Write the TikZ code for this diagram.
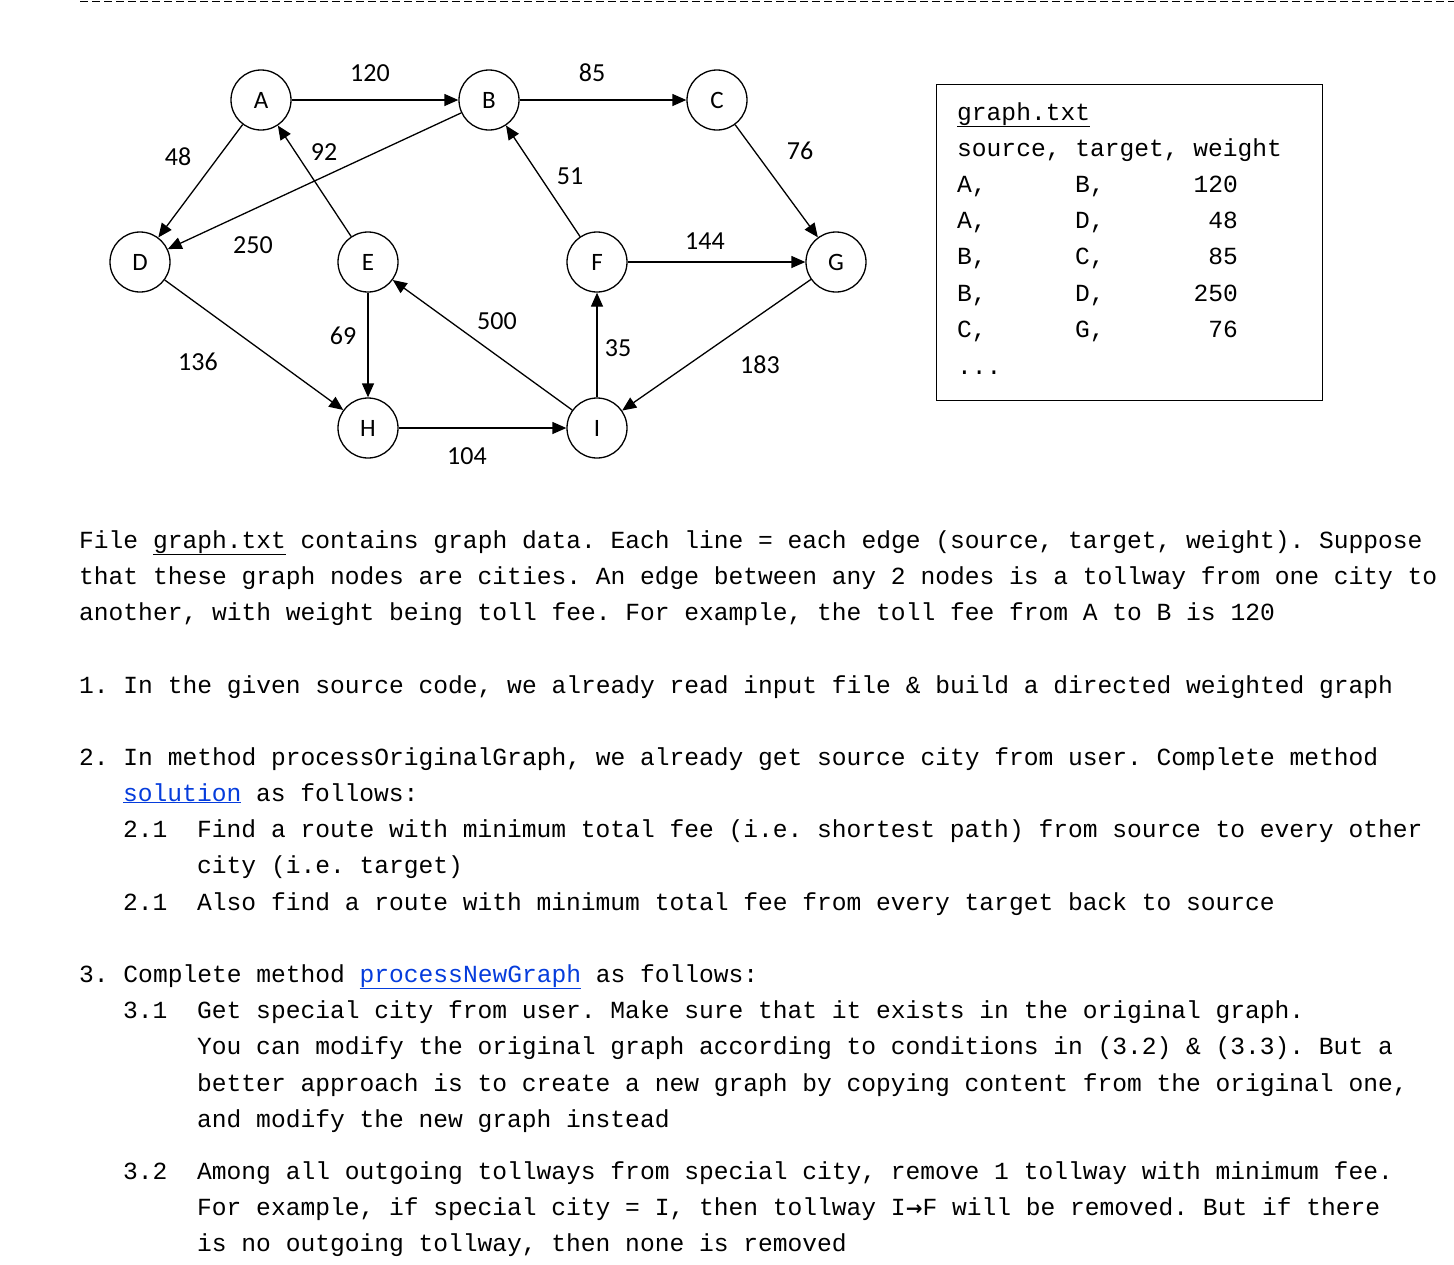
\documentclass[tikz,border=0pt]{standalone}
\usepackage{fontspec}
\setmainfont{Carlito}
\newfontfamily\mono{Liberation Mono}
\newfontfamily\djv{DejaVu Sans}
\usetikzlibrary{arrows.meta}
\begin{document}
\frenchspacing
\begin{tikzpicture}[x=1pt,y=-1pt,
 city/.style={circle,draw,line width=1.3pt,minimum size=60pt,inner sep=0pt,font=\fontsize{25}{25}\selectfont},
 edge/.style={line width=1.3pt,-{Triangle[length=14pt,width=12pt]}},
 lbl/.style={font=\fontsize{26}{26}\selectfont},
 tl/.style={anchor=base west,inner sep=0pt,font=\mono\fontsize{24.6}{25}\selectfont\frenchspacing},
 tr/.style={anchor=base east,inner sep=0pt,font=\mono\fontsize{24.6}{25}\selectfont}]
\useasboundingbox (0,0) rectangle (1454,1264);
\draw[dashed,line width=1pt,dash pattern=on 8pt off 4pt] (80,1) -- (1454,1);
\node[city] (A) at (261,100) {A};
\node[city] (B) at (489,100) {B};
\node[city] (C) at (717,100) {C};
\node[city] (D) at (140,262) {D};
\node[city] (E) at (368,262) {E};
\node[city] (F) at (597,262) {F};
\node[city] (G) at (836,262) {G};
\node[city] (H) at (368,428) {H};
\node[city] (I) at (597,428) {I};
\draw[edge] (A) -- (B);
\draw[edge] (B) -- (C);
\draw[edge] (A) -- (D);
\draw[edge] (E) -- (A);
\draw[edge] (B) -- (D);
\draw[edge] (F) -- (B);
\draw[edge] (C) -- (G);
\draw[edge] (F) -- (G);
\draw[edge] (D) -- (H);
\draw[edge] (E) -- (H);
\draw[edge] (I) -- (E);
\draw[edge] (I) -- (F);
\draw[edge] (G) -- (I);
\draw[edge] (H) -- (I);
\node[lbl] (l1) at (370,73) {120};
\node[lbl] (l2) at (592,73) {85};
\node[lbl] (l3) at (178,157) {48};
\node[lbl] (l4) at (324,152) {92};
\node[lbl] (l5) at (253,245) {250};
\node[lbl] (l6) at (570,176) {51};
\node[lbl] (l7) at (800,151) {76};
\node[lbl] (l8) at (705,241) {144};
\node[lbl] (l9) at (198,362) {136};
\node[lbl] (l10) at (343,336) {69};
\node[lbl] (l11) at (497,321) {500};
\node[lbl] (l12) at (618,348) {35};
\node[lbl] (l13) at (760,365) {183};
\node[lbl] (l14) at (467,456) {104};
\draw[line width=1pt] (936,84) rectangle (1322,400);
\node[tl] (b0) at (957,120) {\underline{graph.txt}};
\node[tl] (b1) at (957,156) {source, target, weight};
\foreach \y/\s/\t/\w in {192/A/B/120,228/A/D/48,264/B/C/85,301/B/D/250,337/C/G/76}{
 \node[tl] at (957,\y) {\s,};
 \node[tl] at (1075,\y) {\t,};
 \node[tr] at (1238,\y) {\w};}
\node[tl] (b7) at (957,374) {...};
\definecolor{lnk}{RGB}{5,60,220}
\node[tl] at (79,548) {File \underline{graph.txt} contains graph data. Each line = each edge (source, target, weight). Suppose};
\node[tl] at (79,584) {that these graph nodes are cities. An edge between any 2 nodes is a tollway from one city to};
\node[tl] at (79,620) {another, with weight being toll fee. For example, the toll fee from A to B is 120};
\node[tl] at (79,693) {1. In the given source code, we already read input file \& build a directed weighted graph};
\node[tl] at (79,765) {2. In method processOriginalGraph, we already get source city from user. Complete method};
\node[tl] at (123,801) {\textcolor{lnk}{\underline{solution}} as follows:};
\node[tl] at (123,837) {2.1};
\node[tl] at (197,837) {Find a route with minimum total fee (i.e. shortest path) from source to every other};
\node[tl] at (197,873) {city (i.e. target)};
\node[tl] at (123,910) {2.1};
\node[tl] at (197,910) {Also find a route with minimum total fee from every target back to source};
\node[tl] at (79,982) {3. Complete method \textcolor{lnk}{\underline{processNewGraph}} as follows:};
\node[tl] at (123,1018) {3.1};
\node[tl] at (197,1018) {Get special city from user. Make sure that it exists in the original graph.};
\node[tl] at (197,1054) {You can modify the original graph according to conditions in (3.2) \& (3.3). But a};
\node[tl] at (197,1091) {better approach is to create a new graph by copying content from the original one,};
\node[tl] at (197,1127) {and modify the new graph instead};
\node[tl] at (123,1179) {3.2};
\node[tl] at (197,1179) {Among all outgoing tollways from special city, remove 1 tollway with minimum fee.};
\node[tl] at (197,1215) {For example, if special city = I, then tollway I{\djv\bfseries\fontsize{20}{20}\selectfont →}F will be removed. But if there};
\node[tl] at (197,1251) {is no outgoing tollway, then none is removed};
\end{tikzpicture}
\end{document}
